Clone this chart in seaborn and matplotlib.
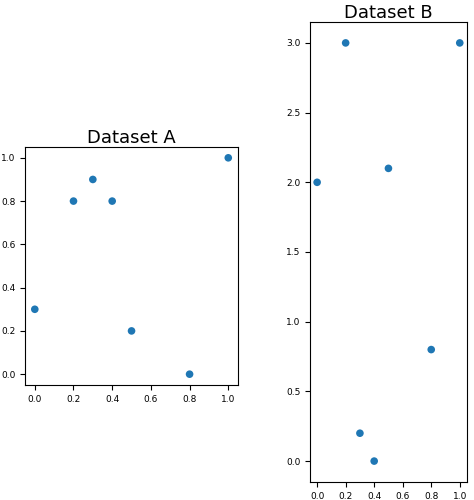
import matplotlib
matplotlib.use("Agg")
import matplotlib.pyplot as plt
import seaborn as sns
import pandas as pd

a_x = [0.0, 0.2, 0.3, 0.4, 0.5, 0.8, 1.0]
a_y = [0.3, 0.8, 0.9, 0.8, 0.2, 0.0, 1.0]
b_x = [0.0, 0.2, 0.3, 0.4, 0.5, 0.8, 1.0]
b_y = [2.0, 3.0, 0.2, 0.0, 2.1, 0.8, 3.0]

fig = plt.figure(figsize=(4.74, 5), dpi=100)
ax1 = fig.add_axes([0.053, 0.23, 0.449, 0.476])
ax2 = fig.add_axes([0.654, 0.036, 0.331, 0.92])

for ax, x, y, t in [(ax1, a_x, a_y, "Dataset A"), (ax2, b_x, b_y, "Dataset B")]:
    df = pd.DataFrame({"x": x, "y": y})
    sns.scatterplot(data=df, x="x", y="y", ax=ax, color="#1f77b4", s=30, edgecolor="none")
    ax.set_xlabel("")
    ax.set_ylabel("")
    ax.set_title(t, fontsize=13, pad=3)
    ax.tick_params(labelsize=6.5)
    ax.set_xticks([0, 0.2, 0.4, 0.6, 0.8, 1.0])

ax1.set_yticks([0, 0.2, 0.4, 0.6, 0.8, 1.0])
ax2.set_yticks([0, 0.5, 1.0, 1.5, 2.0, 2.5, 3.0])
fig.savefig("out.png", dpi=100)
